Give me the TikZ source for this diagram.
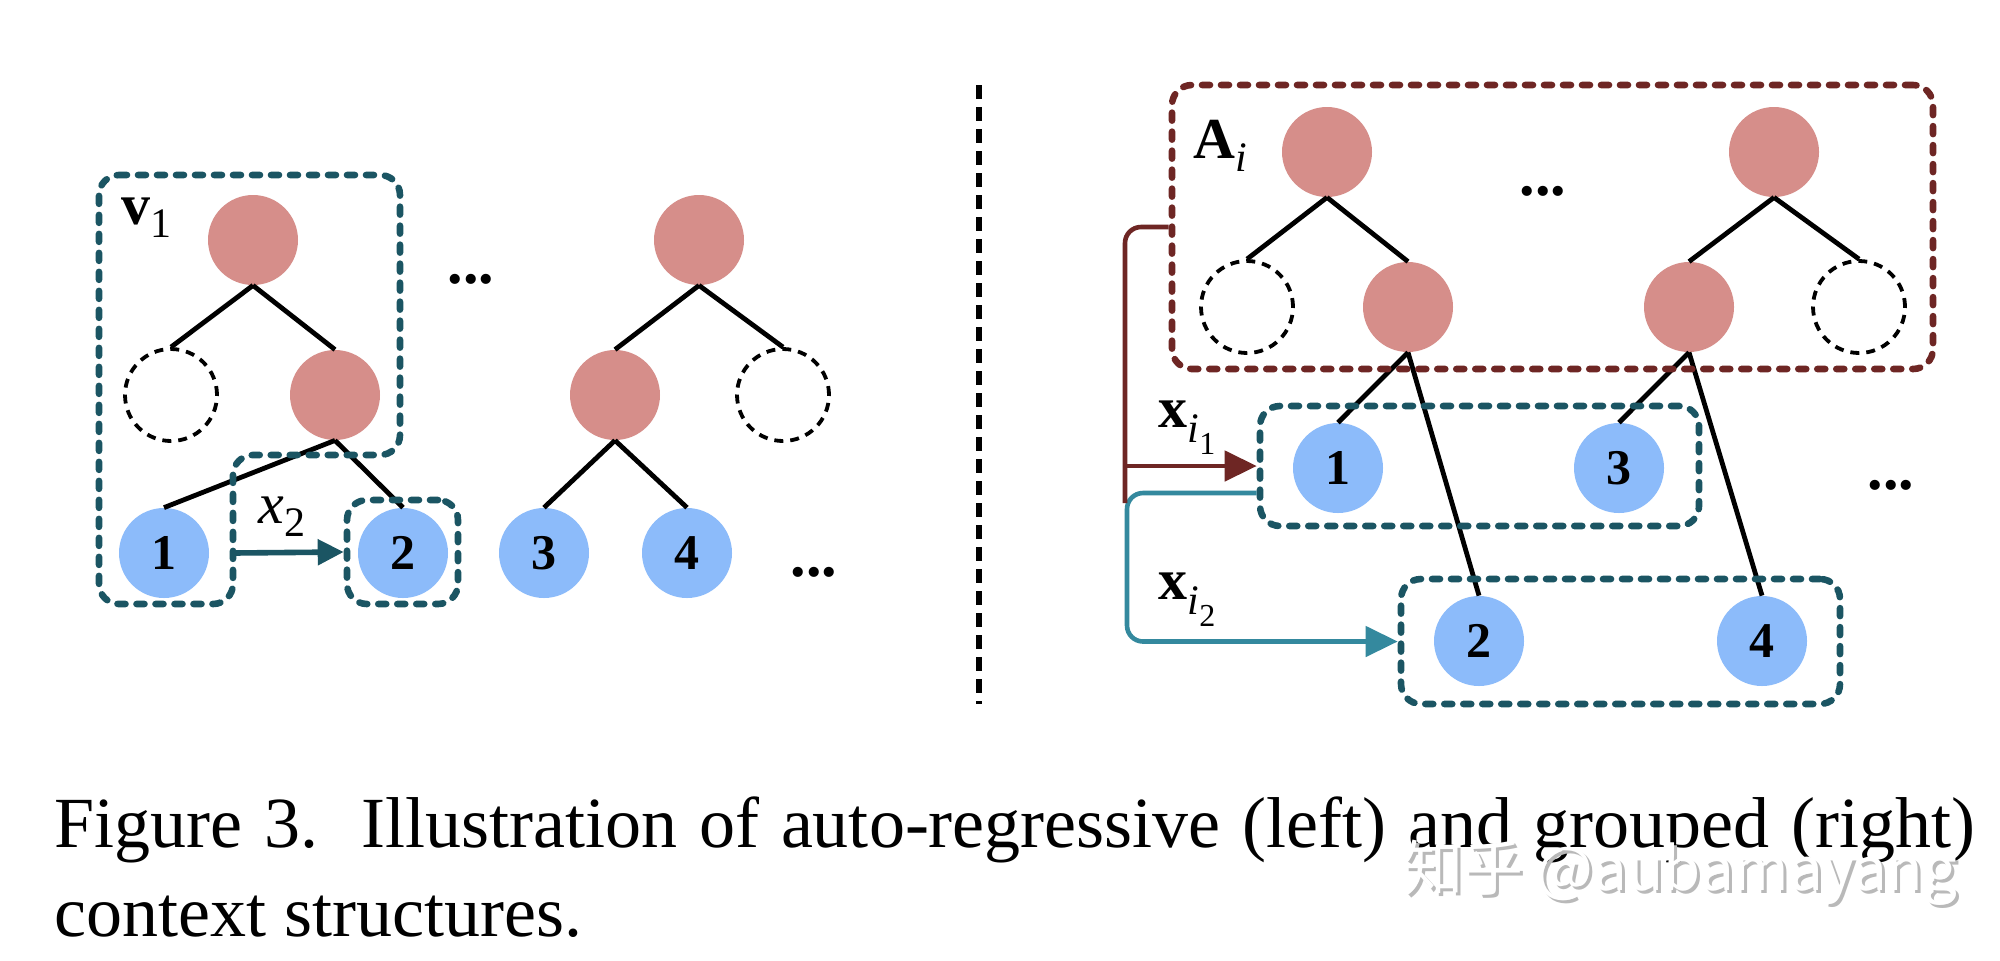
\documentclass[tikz,border=0pt]{standalone}
\usepackage{fontspec}
\setmainfont{Liberation Serif}
\newfontfamily\cjk{Noto Sans CJK SC}
\usetikzlibrary{arrows.meta}
\definecolor{pinkn}{RGB}{214,142,138}
\definecolor{bluen}{RGB}{140,187,250}
\definecolor{tealbox}{RGB}{27,85,99}
\definecolor{brownbox}{RGB}{110,38,36}
\definecolor{tealln}{RGB}{52,137,158}
\begin{document}
\begin{tikzpicture}[x=0.5pt,y=-0.5pt,
  pnode/.style={circle,fill=pinkn,minimum size=45pt,inner sep=0pt},
  bnode/.style={circle,fill=bluen,minimum size=45pt,inner sep=0pt,font=\fontsize{25}{25}\selectfont\bfseries},
  enode/.style={circle,draw=black,line width=1.9pt,dash pattern=on 4.5pt off 3.5pt,minimum size=46pt,inner sep=0pt},
  edge/.style={line width=2.4pt,black},
  tbox/.style={draw=tealbox,line width=3.3pt,dash pattern=on 4pt off 5.5pt,line cap=round,rounded corners=10pt},
  bbox/.style={draw=brownbox,line width=3.3pt,dash pattern=on 4pt off 5.5pt,line cap=round,rounded corners=10pt},
  dots/.style={inner sep=0pt,font=\fontsize{31}{31}\selectfont\bfseries},
  lab/.style={inner sep=0pt,font=\fontsize{29}{29}\selectfont},
  brline/.style={draw=brownbox,line width=2.3pt},
  tlline/.style={draw=tealln,line width=2.3pt},
  capt/.style={inner sep=0pt,anchor=base west,font=\fontsize{36}{36}\selectfont}
]
\useasboundingbox (0,0) rectangle (2000,960);
\fill[white] (0,0) rectangle (2000,960);

% ---------------- left panel ----------------
\node[pnode] (r1) at (253,240) {};
\node[enode] (d1) at (171,395) {};
\node[pnode] (p1) at (335,395) {};
\node[bnode] (n1) at (164,553) {1};
\node[bnode] (n2) at (403,553) {2};
\draw[edge] (r1.south) -- (d1.north);
\draw[edge] (r1.south) -- (p1.north);
\draw[edge] (p1.south) -- (n1.north);
\draw[edge] (p1.south) -- (n2.north);

\node[pnode] (r2) at (699,240) {};
\node[pnode] (p2) at (615,395) {};
\node[enode] (d2) at (783,395) {};
\node[bnode] (n3) at (544,553) {3};
\node[bnode] (n4) at (687,553) {4};
\draw[edge] (r2.south) -- (p2.north);
\draw[edge] (r2.south) -- (d2.north);
\draw[edge] (p2.south) -- (n3.north);
\draw[edge] (p2.south) -- (n4.north);

\draw[tbox] (99,175) -- (400,175) -- (400,455) -- (233,455) -- (233,604) -- (99,604) -- cycle;
\node[tbox,minimum width=55.5pt,minimum height=52pt] (b2) at (402.5,552) {};
\node[lab] (v1) at (146,218) {\textbf{v}\raisebox{-0.22em}{\fontsize{21}{21}\selectfont 1}};

\coordinate (a1) at (233,553);
\draw[draw=tealbox,line width=2.8pt,-{Triangle[length=13pt,width=12.5pt]}] (a1) -- (b2.west);
\node[lab] (x2) at (282,517) {\textit{x}\raisebox{-0.22em}{\fontsize{21}{21}\selectfont 2}};

\node[dots] (e1) at (471,279) {...};
\node[dots] (e2) at (814,572) {...};

% separator
\draw[black,line width=3.3pt,dash pattern=on 7pt off 4pt] (979,85) -- (979,704);

% ---------------- right panel ----------------
\node[pnode] (ra) at (1327,152) {};
\node[enode] (da) at (1247,307) {};
\node[pnode] (pa) at (1408,307) {};
\node[pnode] (rb) at (1774,152) {};
\node[pnode] (pb) at (1689,307) {};
\node[enode] (db) at (1859,307) {};
\node[bnode] (m1) at (1338,468) {1};
\node[bnode] (m3) at (1619,468) {3};
\node[bnode] (m2) at (1479,641) {2};
\node[bnode] (m4) at (1762,641) {4};
\draw[edge] (ra.south) -- (da.north);
\draw[edge] (ra.south) -- (pa.north);
\draw[edge] (rb.south) -- (pb.north);
\draw[edge] (rb.south) -- (db.north);
\draw[edge] (pa.south) -- (m1.north);
\draw[edge] (pa.south) -- (m2.north);
\draw[edge] (pb.south) -- (m3.north);
\draw[edge] (pb.south) -- (m4.north);

\node[bbox,minimum width=380.5pt,minimum height=142pt] (Ab) at (1552.5,227) {};
\node[tbox,minimum width=219.5pt,minimum height=60pt] (X1) at (1479.5,466) {};
\node[tbox,minimum width=219.5pt,minimum height=62.5pt] (X2) at (1620.5,641.5) {};

\node[lab] (Al) at (1220,146) {\textbf{A}\raisebox{-0.22em}{\fontsize{21}{21}\selectfont\textit{i}}};
\node[dots] (e3) at (1543,191) {...};
\node[dots] (e4) at (1891,485) {...};

\coordinate (tj) at (1127,493);
\draw[tlline,rounded corners=8pt,-{Triangle[length=16pt,width=15pt]}] ([yshift=-13.5pt]X1.west) -- (tj) |- (X2.west);
\coordinate (bj) at (1125,503);
\coordinate (bk) at (1125,466);
\draw[brline,rounded corners=8pt] (Ab.west) -| (bj);
\draw[brline,-{Triangle[length=16pt,width=15pt]}] (bk) -- (X1.west);

\node[lab] (xl1) at (1187,428) {\textbf{x}\raisebox{-0.25em}{\fontsize{21}{21}\selectfont\textit{i}\raisebox{-0.3em}{\fontsize{16}{16}\selectfont 1}}};
\node[lab] (xl2) at (1187,600) {\textbf{x}\raisebox{-0.25em}{\fontsize{21}{21}\selectfont\textit{i}\raisebox{-0.3em}{\fontsize{16}{16}\selectfont 2}}};

% ---------------- caption ----------------
\node[capt] (c1) at (54,847) {\makebox[960.5pt][s]{Figure 3.\ \ Illustration of auto-regressive (left) and grouped (right)}};
\node[capt] (c2) at (54,936) {context structures.};
\node[inner sep=0pt,anchor=base west,text=gray!55,font=\cjk\fontsize{30}{30}\selectfont] (wm0) at (1406,893) {知乎 @aubamayang};
\node[inner sep=0pt,anchor=base west,text=white,font=\cjk\fontsize{30}{30}\selectfont] (wm) at (1403,890) {知乎 @aubamayang};
\end{tikzpicture}
\end{document}
